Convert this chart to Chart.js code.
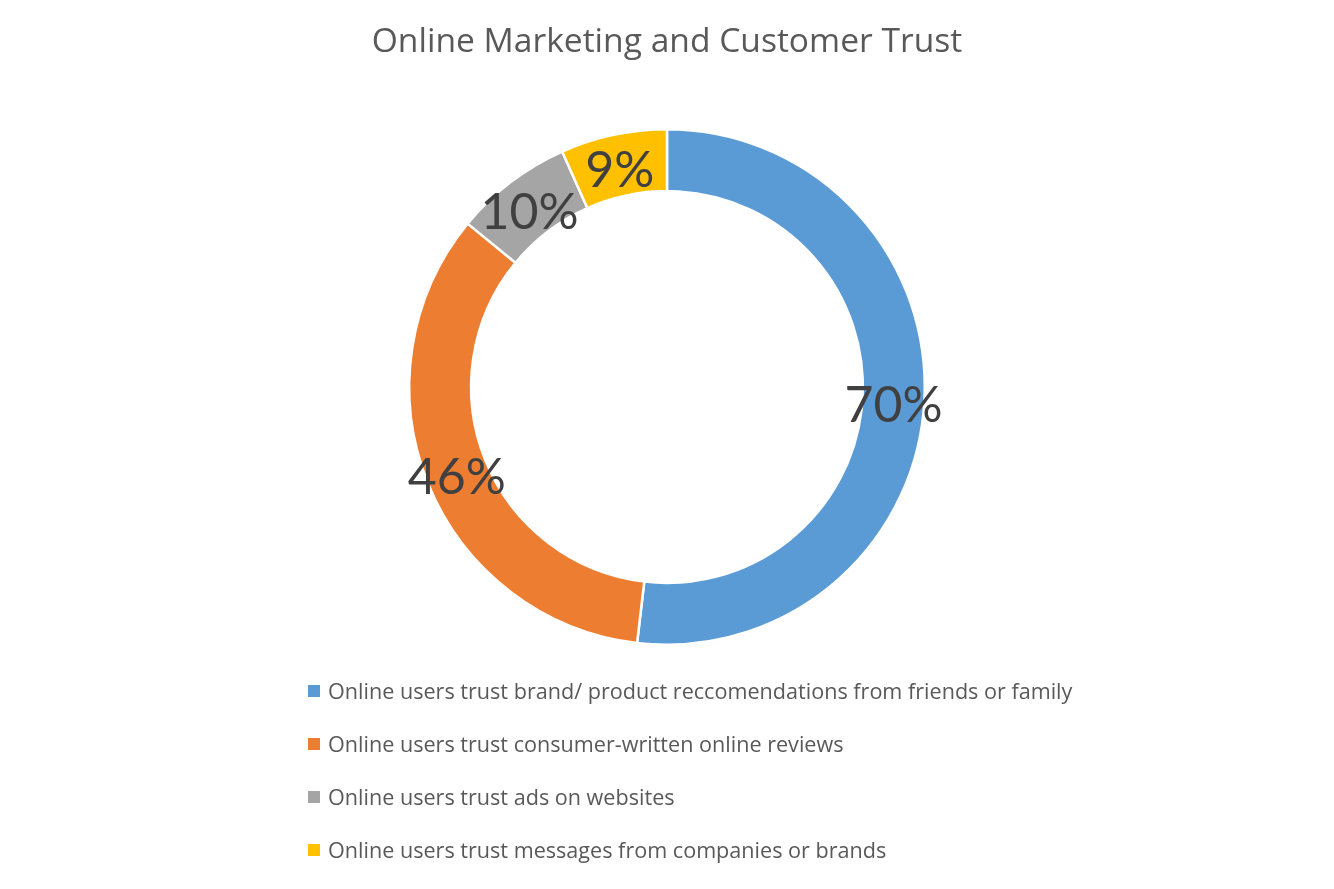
<!DOCTYPE html>
<html>
<head>
<meta charset="utf-8">
<script src="https://cdn.jsdelivr.net/npm/chart.js@4"></script>
<style>
  html, body { margin: 0; padding: 0; background: #fff; }
  #wrap { position: relative; width: 1334px; height: 889px; font-family: "Open Sans", Lato, sans-serif; }
  #title { position: absolute; left: 0; width: 1334px; top: 16px; text-align: center; font-size: 33.6px; line-height: 46px; color: #595959; }
  #legend { position: absolute; left: 308px; top: 676px; }
  .item { height: 53px; display: flex; align-items: flex-start; font-size: 21.6px; line-height: 29px; color: #595959; white-space: nowrap; }
  .box { width: 12px; height: 12px; margin-right: 8px; margin-top: 9px; flex: none; }
</style>
</head>
<body>
<div id="wrap">
  <canvas id="chart" width="1334" height="889"></canvas>
  <div id="title">Online Marketing and Customer Trust</div>
  <div id="legend"></div>
</div>
<script>
// data
const labels = [
    'Online users trust brand/ product reccomendations from friends or family',
    'Online users trust consumer-written online reviews',
    'Online users trust ads on websites',
    'Online users trust messages from companies or brands'
];
const values = [70, 46, 10, 9];
const colors = ['#5B9BD5', '#ED7D31', '#A5A5A5', '#FFC000'];

// legend in html
const legendEl = document.getElementById('legend');
labels.forEach((lbl, i) => {
    const div = document.createElement('div');
    div.className = 'item';
    div.innerHTML = `<span class="box" style="background:${colors[i]}"></span><span>${lbl}</span>`;
    legendEl.appendChild(div);
});

// draw percent labels at the middle of each ring segment
const sliceLabels = {
    id: 'sliceLabels',
    afterDatasetsDraw(chart) {
        const ctx = chart.ctx;
        const meta = chart.getDatasetMeta(0);
        ctx.save();
        ctx.font = '50px Lato, "Open Sans", sans-serif';
        ctx.fillStyle = '#404040';
        ctx.textAlign = 'center';
        ctx.textBaseline = 'middle';
        meta.data.forEach((arc, i) => {
            const p = arc.getCenterPoint();
            ctx.fillText(values[i] + '%', p.x, p.y + 6);
        });
        ctx.restore();
    }
};

new Chart(document.getElementById('chart'), {
    type: 'doughnut',
    data: {
        labels: labels,
        datasets: [{
            data: values,
            backgroundColor: colors,
            borderColor: '#ffffff',
            borderWidth: 2.5
        }]
    },
    options: {
        responsive: false,
        animation: false,
        cutout: '76%',
        layout: { padding: { top: 128, bottom: 243 } },
        plugins: {
            legend: { display: false },
            title: { display: false },
            tooltip: { enabled: false }
        }
    },
    plugins: [sliceLabels]
});
</script>
</body>
</html>
